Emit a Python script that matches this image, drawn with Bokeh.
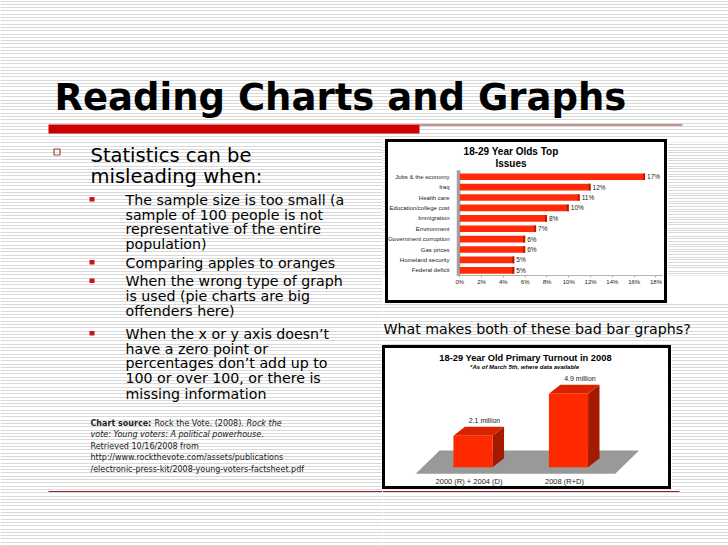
import numpy as np
from bokeh.plotting import figure
from bokeh.layouts import row, column
from bokeh.models import Range1d, FixedTicker, PrintfTickFormatter
from bokeh.core.properties import value
from bokeh.embed import file_html
from bokeh.resources import INLINE

# chart 1: top issues for 18-29 year olds (percent)
ISSUES = ["Jobs & the economy", "Iraq", "Health care", "Education/college cost",
          "Immigration", "Environment", "Government corruption", "Gas prices",
          "Homeland security", "Federal deficit"]
ISSUE_SHARES = [17, 12, 11, 10, 8, 7, 6, 6, 5, 5]
SHARE_TICKS = [0, 2, 4, 6, 8, 10, 12, 14, 16, 18]
ISSUES_TITLE = ["18-29 Year Olds Top", "Issues"]

# chart 2: primary turnout (millions)
TURNOUT_GROUPS = ["2000 (R) + 2004 (D)", "2008 (R+D)"]
TURNOUT_MILLIONS = [2.1, 4.9]
TURNOUT_NOTES = ["2.1 million", "4.9 million"]
TURNOUT_TITLE = "18-29 Year Old Primary Turnout in 2008"
TURNOUT_SUB = "*As of March 5th, where data available"

# slide text
TITLE = "Reading Charts and Graphs"
LEAD = ["Statistics can be", "misleading when:"]
POINTS = [
    ["The sample size is too small (a", "sample of 100 people is not",
     "representative of the entire", "population)"],
    ["Comparing apples to oranges"],
    ["When the wrong type of graph", "is used (pie charts are big", "offenders here)"],
    ["When the x or y axis doesn\u2019t", "have a zero point or",
     "percentages don\u2019t add up to", "100 or over 100, or there is",
     "missing information"],
]
POINT_BASE = [203.5, 266.5, 285, 337.5]
SOURCE = [
    [(90, "Chart source:", "bold"), (154, "Rock the Vote. (2008).", "normal"),
     (246, "Rock the", "italic")],
    [(90, "vote: Young voters: A political powerhouse.", "italic")],
    [(90, "Retrieved 10/16/2008 from", "normal")],
    [(90, "http://www.rockthevote.com/assets/publications", "normal")],
    [(90, "/electronic-press-kit/2008-young-voters-factsheet.pdf", "normal")],
]
QUESTION = "What makes both of these bad bar graphs?"

STRIPES = np.floor(np.arange(0, 546, 3.3)) + 0.5
SLIDE_FONT = "DejaVu Sans"
CHART_FONT = "Liberation Sans"
DARK_RED = "#8c2626"
BOX = {"background-color": "white", "box-shadow": "inset 0 0 0 3px black"}


def panel(x0, y0, x1, y1):
    # piece of the slide, drawn in page pixel coordinates
    p = figure(width=int(round(x1 - x0)), height=int(round(y1 - y0)),
               x_range=Range1d(x0, x1), y_range=Range1d(y1, y0),
               toolbar_location=None, output_backend="svg", min_border=0,
               x_axis_location=None, y_axis_location=None,
               background_fill_color="white", border_fill_color="white",
               outline_line_color=None)
    p.grid.visible = False
    ys = [y for y in STRIPES if y0 - 1 <= y <= y1 + 1]
    p.hspan(y=ys, line_color="#d9d9d9", line_width=1)
    return p


def put(p, x, base, s, size, style="normal", color="black"):
    # base is the text baseline; the glyph is anchored on the em middle
    p.text(x=[x], y=[base - 0.3 * size], text=[s], text_font=value(SLIDE_FONT),
           text_font_size=f"{size}px", text_font_style=style,
           text_color=color, text_baseline="middle", text_align="left")


# header
top = panel(0, 0, 728, 139)
put(top, 54, 107.7, TITLE, 37, "bold")
top.quad(left=48, right=419, top=124, bottom=133, fill_color="#cc0000", line_color=None)
top.segment(x0=419, y0=124.5, x1=682, y1=124.5, line_color=DARK_RED, line_width=1.2)

# left text column
left = panel(0, 139, 382, 546)
left.quad(left=53.5, right=59.5, top=148.5, bottom=154.5, fill_color=None,
          line_color="#a4483e", line_width=1.2)
for i, s in enumerate(LEAD):
    put(left, 90, 160.7 + 21 * i, s, 19.5)
for base, lines in zip(POINT_BASE, POINTS):
    left.quad(left=89, right=94, top=base - 7, bottom=base - 2.5,
              fill_color="#cc1414", line_color=None)
    for j, s in enumerate(lines):
        put(left, 125, base + 14.8 * j + (1.5 if j == 4 else 0), s, 14.2)
for k, parts in enumerate(SOURCE):
    for x, s, style in parts:
        put(left, x, 425 + 11.5 * k, s, 8, style, "#222222")
left.segment(x0=48, y0=491, x1=382, y1=491, line_color=DARK_RED, line_width=1.2)

# chart 1: horizontal bars, top issue first
rows = list(range(len(ISSUES)))
p1 = figure(width=282, height=164, x_range=Range1d(-0.3, 18.6),
            y_range=Range1d(len(ISSUES) - 0.5, -3.29),
            min_border_left=67, min_border_right=5, min_border_top=3, min_border_bottom=28,
            toolbar_location=None, output_backend="svg",
            background_fill_color=None, border_fill_color=None, outline_line_color=None)
p1.styles = BOX
p1.grid.visible = False
p1.quad(left=-0.3, right=0.05, bottom=len(ISSUES) - 0.5, top=-0.62,
        fill_color="#a0a0a0", line_color=None)
p1.hbar(y=rows, left=0, right=ISSUE_SHARES, height=0.64,
        fill_color="#ff2b06", line_color=None)
p1.hbar(y=rows, left=[v - 0.18 for v in ISSUE_SHARES], right=ISSUE_SHARES, height=0.64,
        fill_color="#b41c00", line_color=None)
p1.text(x=ISSUE_SHARES, y=rows, text=[f"{v}%" for v in ISSUE_SHARES], x_offset=2,
        text_baseline="middle", text_align="left", text_font=value(CHART_FONT),
        text_font_size="6.5px", text_color="#222222")
p1.text(x=[4.7, 4.7], y=[-2.42, -1.27], text=ISSUES_TITLE, text_align="center",
        text_baseline="middle", text_font=value(CHART_FONT),
        text_font_size="10px", text_font_style="bold")
ya = p1.yaxis[0]
ya.ticker = FixedTicker(ticks=rows)
ya.major_label_overrides = {i: name for i, name in zip(rows, ISSUES)}
ya.axis_line_color = None
ya.major_tick_line_color = None
ya.minor_tick_line_color = None
ya.major_label_standoff = 1
ya.major_label_text_font = CHART_FONT
ya.major_label_text_font_size = "6px"
ya.major_label_text_color = "#222222"
xa = p1.xaxis[0]
xa.ticker = FixedTicker(ticks=SHARE_TICKS)
xa.formatter = PrintfTickFormatter(format="%d%%")
xa.axis_line_color = "#b0b0b0"
xa.major_tick_line_color = "#b0b0b0"
xa.major_tick_in = 0
xa.major_tick_out = 2
xa.minor_tick_line_color = None
xa.major_label_standoff = 1
xa.major_label_text_font = CHART_FONT
xa.major_label_text_font_size = "6px"
xa.major_label_text_color = "#222222"

# chart 2: pseudo 3D columns
p2 = figure(width=289, height=144, x_range=Range1d(-0.948, 2.079),
            y_range=Range1d(-1.487, 8.113), min_border=0,
            x_axis_location=None, y_axis_location=None,
            toolbar_location=None, output_backend="svg",
            background_fill_color=None, border_fill_color=None, outline_line_color=None)
p2.styles = BOX
p2.grid.visible = False
xs = list(range(len(TURNOUT_MILLIONS)))
W, DX, DY = 0.41, 0.12, 0.6
FLOOR_FRONT, FLOOR_BACK = -0.44, 1.11
p2.patch(x=[xs[0] - 0.6, xs[-1] + 0.49, xs[-1] + 0.74, xs[0] - 0.35],
         y=[FLOOR_FRONT, FLOOR_FRONT, FLOOR_BACK, FLOOR_BACK],
         fill_color="#999999", line_color=None)
p2.patches(xs=[[x + W / 2, x + W / 2 + DX, x + W / 2 + DX, x + W / 2] for x in xs],
           ys=[[0, DY, v + DY, v] for v in TURNOUT_MILLIONS],
           fill_color="#a31a00", line_color=None)
p2.patches(xs=[[x - W / 2, x + W / 2, x + W / 2 + DX, x - W / 2 + DX] for x in xs],
           ys=[[v, v, v + DY, v + DY] for v in TURNOUT_MILLIONS],
           fill_color="#d92300", line_color=None)
p2.vbar(x=xs, bottom=0, top=TURNOUT_MILLIONS, width=W, fill_color="#ff2a00", line_color=None)
p2.text(x=[x + DX for x in xs], y=[v + DY for v in TURNOUT_MILLIONS], text=TURNOUT_NOTES,
        y_offset=-6.5, text_align="center", text_baseline="middle",
        text_font=value(CHART_FONT), text_font_size="7px", text_color="#222222")
p2.text(x=xs, y=[FLOOR_FRONT] * len(xs), text=TURNOUT_GROUPS, x_offset=-4, y_offset=8,
        text_align="center", text_baseline="middle",
        text_font=value(CHART_FONT), text_font_size="7.5px", text_color="#222222")
p2.text(x=[0.55], y=[7.25], text=[TURNOUT_TITLE],
        text_align="center", text_baseline="middle", text_font=value(CHART_FONT),
        text_font_size="9.3px", text_font_style="bold")
p2.text(x=[0.54], y=[6.67], text=[TURNOUT_SUB],
        text_align="center", text_baseline="middle", text_font=value(CHART_FONT),
        text_font_size="6px", text_font_style="bold italic")

# right column pieces
mid = panel(382, 303, 728, 345)
put(mid, 383, 333, QUESTION, 14.2)
bottom = panel(382, 489, 728, 546)
bottom.segment(x0=382, y0=491, x1=679, y1=491, line_color=DARK_RED, line_width=1.2)

right = column(
    row(panel(382, 139, 385, 303), p1, panel(667, 139, 728, 303)),
    mid,
    row(p2, panel(671, 345, 728, 489)),
    bottom,
)
layout = column(top, row(left, right))

open("out.html", "w").write(file_html(layout, INLINE))
